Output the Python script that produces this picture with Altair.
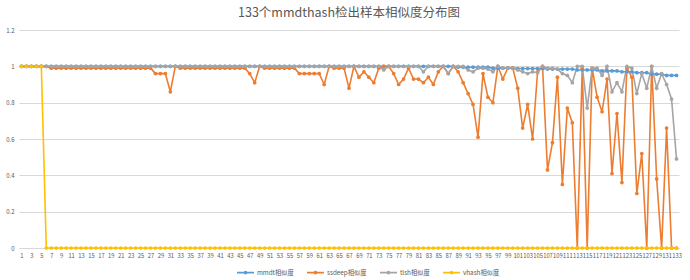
import altair as alt
import pandas as pd

title = "133个mmdthash检出样本相似度分布图"
series_names = ["mmdt相似度", "ssdeep相似度", "tlsh相似度", "vhash相似度"]
series_colors = ["#5B9BD5", "#ED7D31", "#A5A5A5", "#FFC000"]

sample_ids = list(range(1, 134))
x_tick_labels = list(range(1, 134, 2))
y_tick_labels = [0, 0.2, 0.4, 0.6, 0.8, 1.0, 1.2]

mmdt = [
    1.0, 1.0, 1.0, 1.0, 1.0, 1.0, 1.0, 1.0, 1.0, 1.0,
    1.0, 1.0, 1.0, 1.0, 1.0, 1.0, 1.0, 1.0, 1.0, 1.0,
    1.0, 1.0, 1.0, 1.0, 1.0, 1.0, 1.0, 1.0, 1.0, 1.0,
    1.0, 1.0, 1.0, 1.0, 1.0, 1.0, 1.0, 1.0, 1.0, 1.0,
    1.0, 1.0, 1.0, 1.0, 1.0, 1.0, 1.0, 1.0, 1.0, 1.0,
    1.0, 1.0, 1.0, 1.0, 1.0, 1.0, 1.0, 1.0, 1.0, 1.0,
    1.0, 1.0, 1.0, 1.0, 1.0, 1.0, 1.0, 1.0, 1.0, 1.0,
    1.0, 1.0, 1.0, 1.0, 1.0, 1.0, 1.0, 1.0, 1.0, 1.0,
    1.0, 1.0, 1.0, 1.0, 1.0, 1.0, 1.0, 1.0, 0.995, 0.995,
    0.995, 0.995, 0.995, 0.995, 0.995, 0.99, 0.99, 0.99, 0.99, 0.99,
    0.988, 0.988, 0.988, 0.988, 0.988, 0.988, 0.985, 0.985, 0.985, 0.985,
    0.985, 0.985, 0.98, 0.98, 0.98, 0.98, 0.98, 0.975, 0.975, 0.975,
    0.975, 0.97, 0.97, 0.97, 0.965, 0.965, 0.965, 0.957, 0.957, 0.957,
    0.95, 0.95, 0.95,
]

ssdeep = [
    1.0, 1.0, 1.0, 1.0, 1.0, 1.0, 0.99, 0.99, 0.99, 0.99,
    0.99, 0.99, 0.99, 0.99, 0.99, 0.99, 0.99, 0.99, 0.99, 0.99,
    0.99, 0.99, 0.99, 0.99, 0.99, 0.99, 0.99, 0.96, 0.96, 0.96,
    0.86, 1.0, 0.99, 0.99, 0.99, 0.99, 0.99, 0.99, 0.99, 0.99,
    0.99, 0.99, 0.99, 0.99, 0.99, 0.99, 0.96, 0.91, 1.0, 0.99,
    0.99, 0.99, 0.99, 0.99, 0.99, 0.99, 0.96, 0.96, 0.96, 0.96,
    0.96, 0.90, 1.0, 0.99, 0.99, 0.99, 0.88, 1.0, 0.94, 0.97,
    0.94, 0.91, 0.99, 1.0, 1.0, 0.96, 0.90, 0.93, 0.99, 0.93,
    0.93, 0.91, 0.94, 0.90, 0.97, 1.0, 0.96, 1.0, 0.97, 0.91,
    0.85, 0.79, 0.61, 0.96, 0.83, 0.80, 1.0, 0.93, 0.99, 0.99,
    0.88, 0.66, 0.79, 0.60, 0.97, 1.0, 0.43, 0.58, 0.94, 0.35,
    0.77, 0.69, 0.0, 0.99, 0.0, 0.99, 0.83, 0.75, 0.93, 0.41,
    0.74, 0.36, 0.99, 0.94, 0.30, 0.52, 0.0, 1.0, 0.38, 0.0,
    0.66, 0.0, 0.0,
]

tlsh = [
    1.0, 1.0, 1.0, 1.0, 1.0, 1.0, 1.0, 1.0, 1.0, 1.0,
    1.0, 1.0, 1.0, 1.0, 1.0, 1.0, 1.0, 1.0, 1.0, 1.0,
    1.0, 1.0, 1.0, 1.0, 1.0, 1.0, 1.0, 1.0, 1.0, 1.0,
    1.0, 1.0, 1.0, 1.0, 1.0, 1.0, 1.0, 1.0, 1.0, 1.0,
    1.0, 1.0, 1.0, 1.0, 1.0, 1.0, 1.0, 1.0, 1.0, 1.0,
    1.0, 1.0, 1.0, 1.0, 1.0, 1.0, 1.0, 1.0, 1.0, 1.0,
    1.0, 1.0, 1.0, 1.0, 1.0, 1.0, 1.0, 1.0, 1.0, 1.0,
    1.0, 1.0, 1.0, 0.98, 1.0, 1.0, 1.0, 1.0, 1.0, 1.0,
    1.0, 0.97, 1.0, 1.0, 1.0, 1.0, 0.96, 1.0, 1.0, 1.0,
    0.98, 0.97, 0.99, 0.99, 0.985, 0.97, 1.0, 0.99, 0.99, 0.99,
    0.98, 0.97, 0.96, 0.97, 0.965, 1.0, 0.99, 0.99, 0.985, 0.96,
    0.95, 0.91, 1.0, 1.0, 0.77, 0.99, 0.99, 0.95, 1.0, 0.86,
    0.91, 0.86, 1.0, 0.99, 0.85, 0.96, 0.88, 1.0, 0.88, 0.96,
    0.90, 0.82, 0.49,
]

vhash = [
    1.0, 1.0, 1.0, 1.0, 1.0, 0.0, 0.0, 0.0, 0.0, 0.0,
    0.0, 0.0, 0.0, 0.0, 0.0, 0.0, 0.0, 0.0, 0.0, 0.0,
    0.0, 0.0, 0.0, 0.0, 0.0, 0.0, 0.0, 0.0, 0.0, 0.0,
    0.0, 0.0, 0.0, 0.0, 0.0, 0.0, 0.0, 0.0, 0.0, 0.0,
    0.0, 0.0, 0.0, 0.0, 0.0, 0.0, 0.0, 0.0, 0.0, 0.0,
    0.0, 0.0, 0.0, 0.0, 0.0, 0.0, 0.0, 0.0, 0.0, 0.0,
    0.0, 0.0, 0.0, 0.0, 0.0, 0.0, 0.0, 0.0, 0.0, 0.0,
    0.0, 0.0, 0.0, 0.0, 0.0, 0.0, 0.0, 0.0, 0.0, 0.0,
    0.0, 0.0, 0.0, 0.0, 0.0, 0.0, 0.0, 0.0, 0.0, 0.0,
    0.0, 0.0, 0.0, 0.0, 0.0, 0.0, 0.0, 0.0, 0.0, 0.0,
    0.0, 0.0, 0.0, 0.0, 0.0, 0.0, 0.0, 0.0, 0.0, 0.0,
    0.0, 0.0, 0.0, 0.0, 0.0, 0.0, 0.0, 0.0, 0.0, 0.0,
    0.0, 0.0, 0.0, 0.0, 0.0, 0.0, 0.0, 0.0, 0.0, 0.0,
    0.0, 0.0, 0.0,
]

rows = []
for name, vals in zip(series_names, [mmdt, ssdeep, tlsh, vhash]):
    for i, v in zip(sample_ids, vals):
        rows.append({"sample": i, "value": v, "series": name})
df = pd.DataFrame(rows)

FONT = "Noto Sans CJK SC"
TEXT = "#595959"
GRID = "#D9D9D9"

legend_symbol = "M-1,0L1,0M-0.12,0a0.12,0.12 0 1,0 0.24,0a0.12,0.12 0 1,0 -0.24,0"

chart = alt.Chart(df).mark_line(
    strokeWidth=1.6,
    point=alt.OverlayMarkDef(size=14, filled=True, strokeWidth=0),
).encode(
    x=alt.X(
        "sample:Q",
        scale=alt.Scale(domain=[0.5, 133.5], nice=False, zero=False),
        axis=alt.Axis(
            values=x_tick_labels, title=None, grid=False, ticks=False,
            domainColor=GRID, domainWidth=1, labelOverlap=False,
            labelFlush=False, labelFontSize=5.8, labelColor=TEXT,
            labelFont=FONT, labelPadding=4,
        ),
    ),
    y=alt.Y(
        "value:Q",
        scale=alt.Scale(domain=[0, 1.2], nice=False),
        axis=alt.Axis(
            values=y_tick_labels, format="~g", title=None, domain=False,
            ticks=False, gridColor=GRID, gridWidth=1, labelFontSize=6,
            labelColor=TEXT, labelFont=FONT, labelPadding=5,
        ),
    ),
    color=alt.Color(
        "series:N",
        scale=alt.Scale(domain=series_names, range=series_colors),
        sort=series_names,
        legend=alt.Legend(
            title=None, orient="none", direction="horizontal",
            legendX=217, legendY=233, symbolType=legend_symbol,
            symbolSize=289, symbolStrokeWidth=1.6, labelFontSize=6.3,
            labelFont=FONT, labelColor=TEXT, columnPadding=9,
            labelOffset=2,
        ),
    ),
).properties(
    width=660,
    height=218,
    padding={"left": 19, "top": 30, "right": 11, "bottom": 32},
    autosize="none",
    title=alt.TitleParams(
        text=title, fontSize=12.5, font=FONT, color=TEXT,
        fontWeight="normal", anchor="middle", offset=8,
    ),
    background="white",
).configure_view(stroke=None)

chart.save("out.html", embed_options={"renderer": "svg", "actions": False})
